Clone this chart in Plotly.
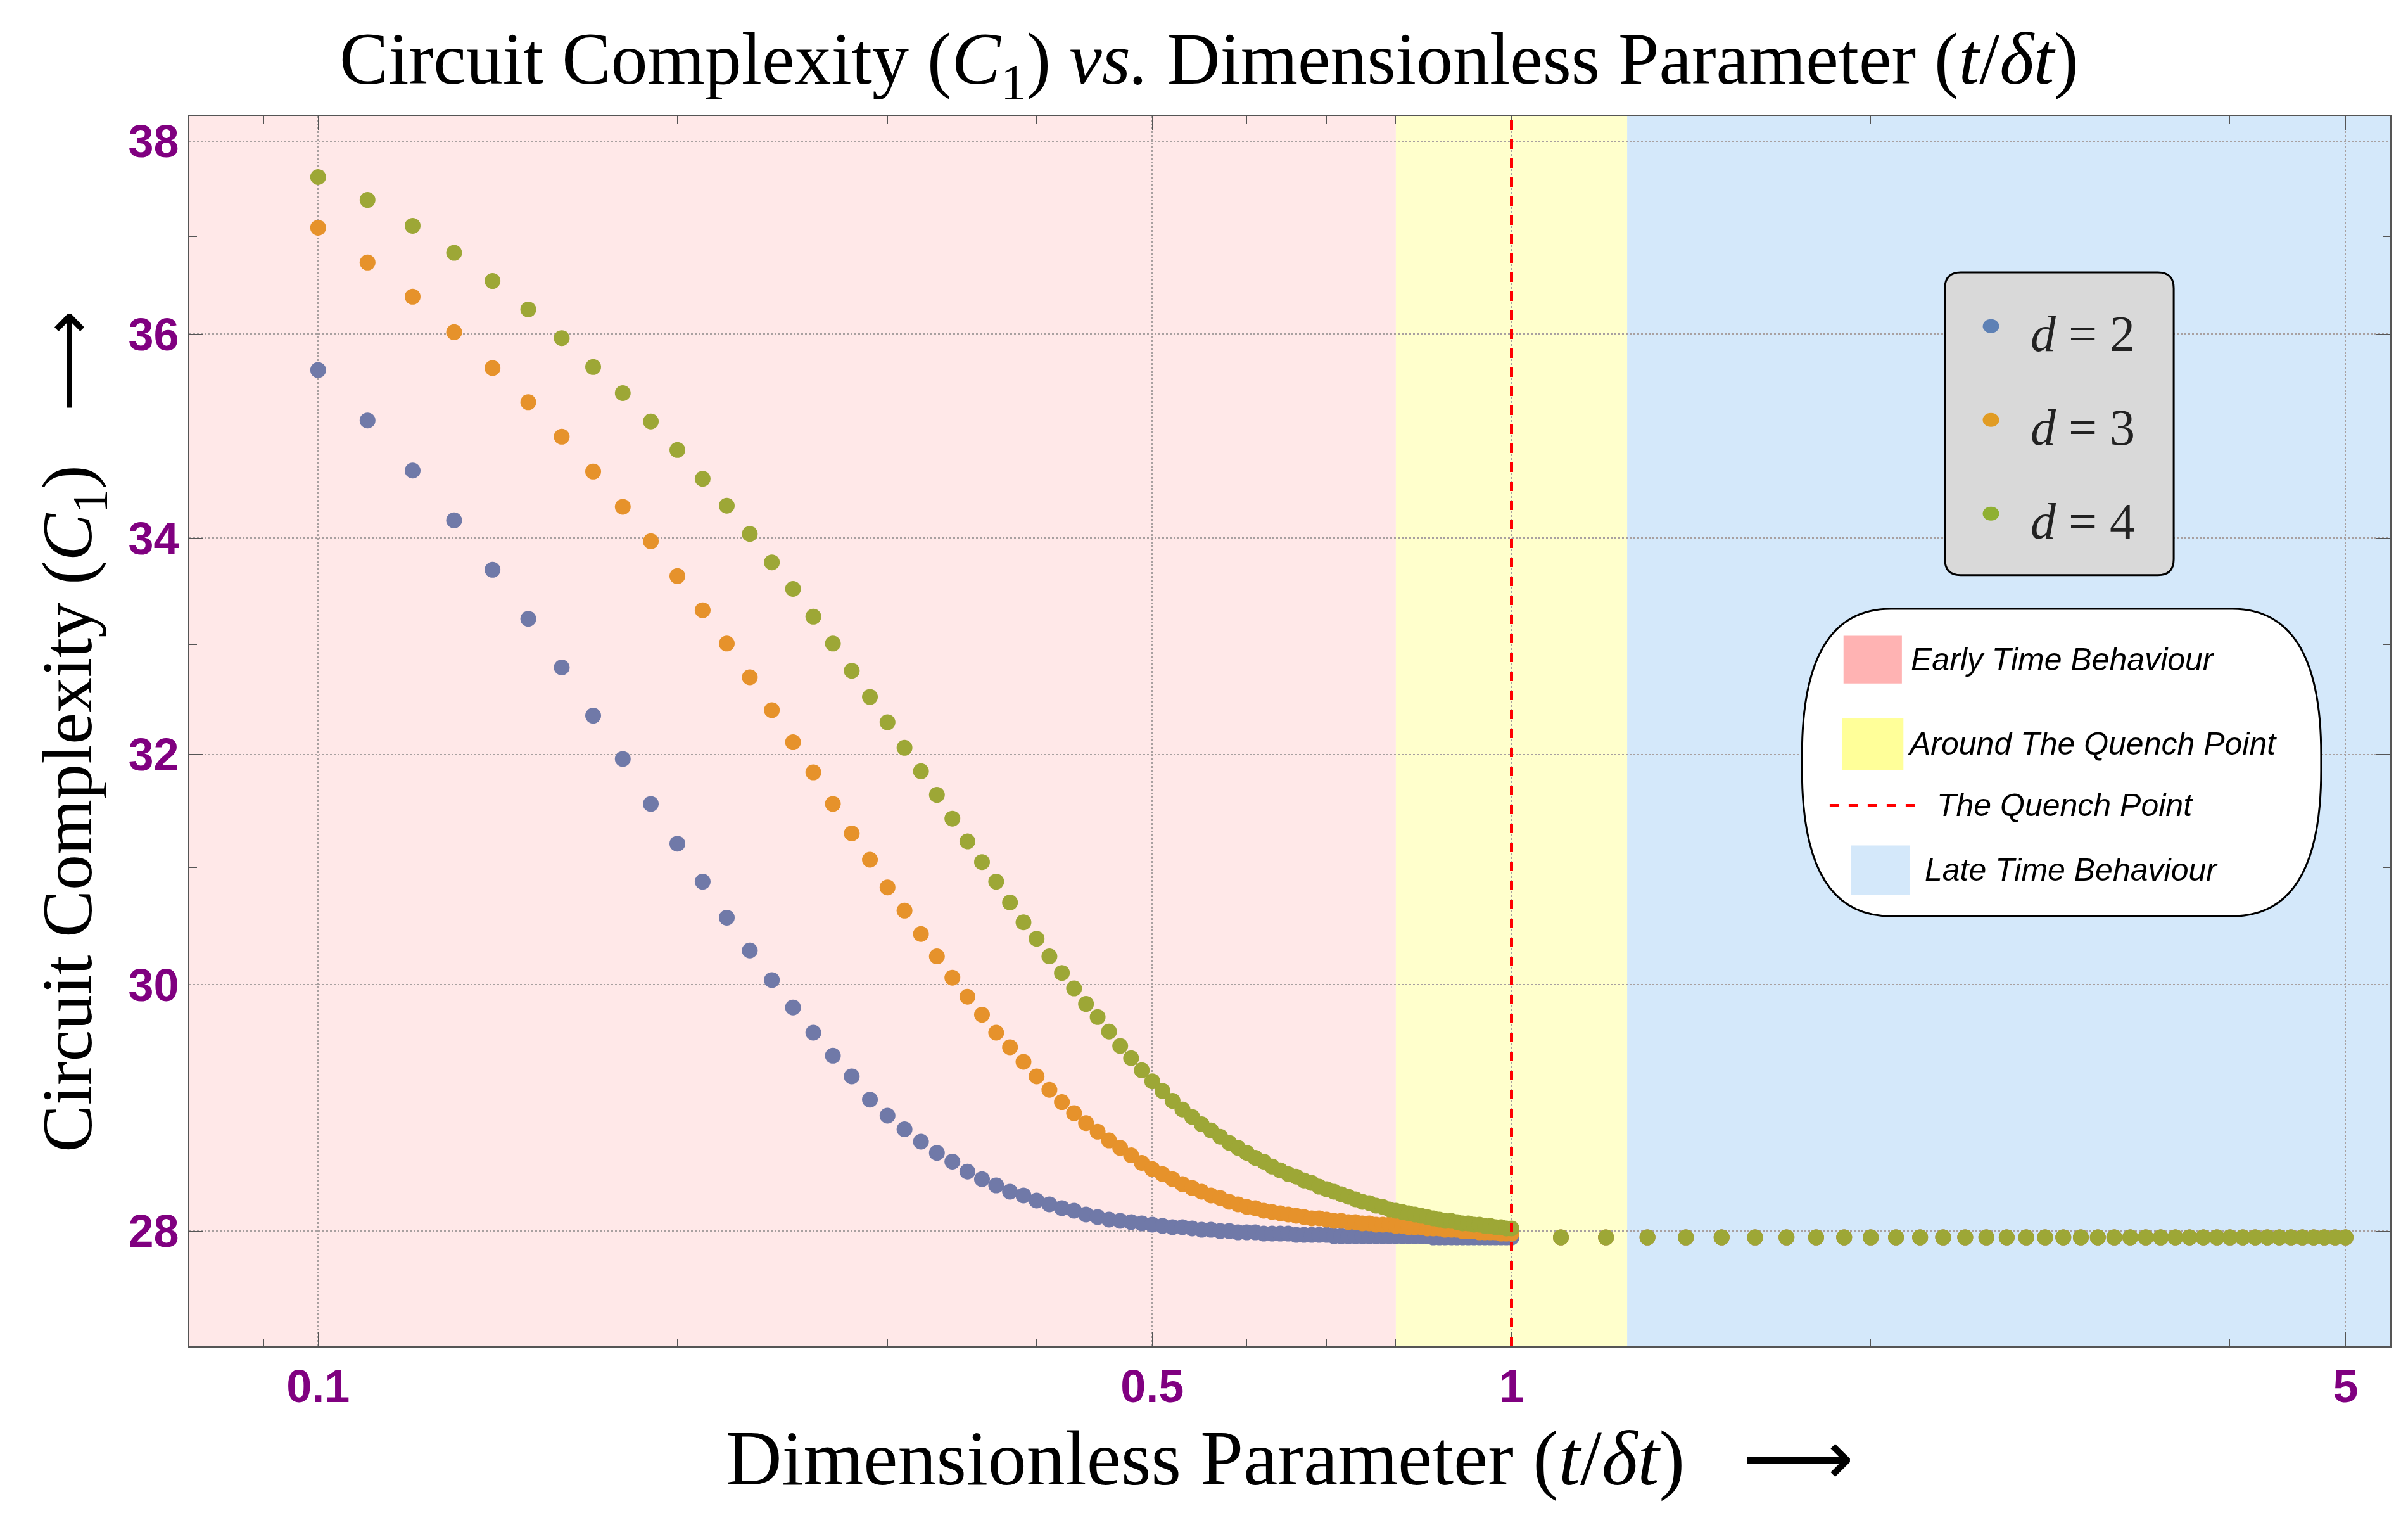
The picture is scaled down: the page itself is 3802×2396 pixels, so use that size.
import numpy as np
import plotly.graph_objects as go

# t/dt sample points: 0.10..1.00 step 0.01, then 1.1..5.0 step 0.1
t_early = np.round(np.arange(0.10, 1.001, 0.01), 2)
t_late = np.round(np.arange(1.1, 5.001, 0.1), 1)

c1_d2 = [35.64, 35.14, 34.65, 34.17, 33.70, 33.24, 32.79, 32.35, 31.96, 31.56,
         31.21, 30.88, 30.57, 30.29, 30.04, 29.81, 29.60, 29.41, 29.24, 29.05,
         28.92, 28.81, 28.71, 28.62, 28.55, 28.47, 28.41, 28.36, 28.31, 28.28,
         28.24, 28.21, 28.18, 28.16, 28.13, 28.11, 28.09, 28.08, 28.07, 28.06,
         28.05, 28.04, 28.03, 28.03, 28.02, 28.01, 28.01, 28.00, 28.00, 27.99,
         27.99, 27.99, 27.98, 27.98, 27.98, 27.98, 27.97, 27.97, 27.97, 27.97,
         27.97, 27.96, 27.96, 27.96, 27.96, 27.96, 27.96, 27.96, 27.96, 27.96,
         27.96, 27.96, 27.96, 27.96, 27.96, 27.96, 27.95, 27.95, 27.95, 27.95,
         27.95, 27.95, 27.95, 27.95, 27.95, 27.95, 27.95, 27.95, 27.95, 27.95,
         27.95]
c1_d3 = [37.09, 36.73, 36.38, 36.02, 35.66, 35.32, 34.98, 34.64, 34.30, 33.97,
         33.64, 33.32, 33.01, 32.70, 32.40, 32.11, 31.84, 31.56, 31.30, 31.07,
         30.83, 30.63, 30.43, 30.24, 30.06, 29.90, 29.75, 29.60, 29.48, 29.36,
         29.24, 29.13, 29.03, 28.94, 28.86, 28.79, 28.72, 28.66, 28.60, 28.54,
         28.49, 28.45, 28.41, 28.37, 28.34, 28.31, 28.28, 28.26, 28.23, 28.21,
         28.19, 28.18, 28.16, 28.15, 28.14, 28.13, 28.12, 28.11, 28.10, 28.10,
         28.09, 28.08, 28.08, 28.07, 28.07, 28.06, 28.06, 28.05, 28.05, 28.05,
         28.04, 28.04, 28.03, 28.03, 28.03, 28.02, 28.02, 28.02, 28.01, 28.01,
         28.01, 28.00, 28.00, 28.00, 27.99, 27.99, 27.99, 27.99, 27.98, 27.98,
         27.98]
c1_d4 = [37.62, 37.38, 37.11, 36.83, 36.54, 36.25, 35.96, 35.67, 35.41, 35.13,
         34.85, 34.57, 34.31, 34.04, 33.77, 33.52, 33.26, 33.01, 32.76, 32.52,
         32.29, 32.06, 31.85, 31.64, 31.43, 31.23, 31.05, 30.88, 30.70, 30.53,
         30.39, 30.24, 30.10, 29.97, 29.84, 29.73, 29.61, 29.49, 29.39, 29.29,
         29.20, 29.12, 29.04, 28.97, 28.91, 28.85, 28.80, 28.75, 28.70, 28.66,
         28.62, 28.58, 28.55, 28.51, 28.48, 28.45, 28.43, 28.40, 28.38, 28.35,
         28.33, 28.31, 28.29, 28.27, 28.25, 28.23, 28.22, 28.20, 28.19, 28.17,
         28.16, 28.15, 28.14, 28.13, 28.12, 28.11, 28.10, 28.09, 28.08, 28.08,
         28.07, 28.06, 28.06, 28.05, 28.05, 28.04, 28.04, 28.03, 28.03, 28.02,
         28.02]
# late time: all three curves sit on the same plateau
c1_late = [27.95] * 40

series = [("d = 2", c1_d2, "#7079A8", "#5E81B5"),
          ("d = 3", c1_d3, "#E6922B", "#E19C24"),
          ("d = 4", c1_d4, "#9DA736", "#8FB032")]

W, H = 3802, 2396
S = 2.425  # reading scale
L, R, T, B = 291, 36, 175, 279
PW, PH = W - L - R, H - T - B


def px(x):  # reference-pixel -> paper
    return (x * S - L) / PW


def py(y):
    return (H - B - y * S) / PH


fig = go.Figure()
for name, vals, col, _ in series:
    fig.add_trace(go.Scatter(x=list(t_early) + list(t_late), y=vals + c1_late,
                             mode="markers", name=name, showlegend=False,
                             marker=dict(size=25, color=col)))

# behaviour regions
for x0, x1, c in [(0.07, 0.8, "#FFE8E8"), (0.8, 1.25, "#FFFFCC"), (1.25, 6, "#D4E8FA")]:
    fig.add_shape(type="rect", xref="x", yref="paper", x0=x0, x1=x1, y0=0, y1=1,
                  fillcolor=c, line_width=0, layer="below")
fig.add_shape(type="line", xref="x", yref="paper", x0=1, x1=1, y0=0, y1=1,
              line=dict(color="red", width=5, dash="dash"))


def rounded(x0, y0, x1, y1, rx, ry):
    rx, ry = rx / PW, ry / PH
    return (f"M{x0+rx},{y0} L{x1-rx},{y0} Q{x1},{y0} {x1},{y0+ry} L{x1},{y1-ry} "
            f"Q{x1},{y1} {x1-rx},{y1} L{x0+rx},{y1} Q{x0},{y1} {x0},{y1-ry} "
            f"L{x0},{y0+ry} Q{x0},{y0} {x0+rx},{y0} Z")


fig.add_shape(type="path", xref="paper", yref="paper",
              path=rounded(px(1263), py(371), px(1412), py(174), 25, 25),
              fillcolor="#D9D9D9", line=dict(color="black", width=3))
fig.add_shape(type="path", xref="paper", yref="paper",
              path=rounded(px(1170), py(593), px(1508), py(393), 140, 230),
              fillcolor="white", line=dict(color="black", width=3))

serif = "Liberation Serif"
sans = "Liberation Sans"
for i, (name, _, _, lcol) in enumerate(series):
    yy = py(209 + 61 * i)
    fig.add_shape(type="circle", xref="paper", yref="paper", xsizemode="pixel",
                  ysizemode="pixel", xanchor=px(1293), yanchor=yy,
                  x0=-13, x1=13, y0=-11, y1=11, fillcolor=lcol, line_width=0)
    fig.add_annotation(xref="paper", yref="paper", x=px(1318), y=py(195 + 61 * i),
                       xanchor="left", showarrow=False, text="<i>d</i> = " + name[-1],
                       font=dict(family=serif, size=80, color="#222"))

items = [("Early Time Behaviour", "#FFB3B3", 1197, 1235, 1240, 426, 31),
         ("Around The Quench Point", "#FFFF99", 1196, 1236, 1238, 481, 34),
         ("The Quench Point", None, 1188, 1246, 1257, 521, 0),
         ("Late Time Behaviour", "#D4E8FA", 1202, 1240, 1249, 563, 32)]
for text, c, a, b, tx, ty, h in items:
    if c:
        fig.add_shape(type="rect", xref="paper", yref="paper", x0=px(a), x1=px(b),
                      y0=py(ty + h / 2), y1=py(ty - h / 2), fillcolor=c, line_width=0)
    else:
        fig.add_shape(type="line", xref="paper", yref="paper", x0=px(a), x1=px(b),
                      y0=py(ty), y1=py(ty), line=dict(color="red", width=5, dash="dash"))
    fig.add_annotation(xref="paper", yref="paper", x=px(tx), y=py(ty), xanchor="left",
                       showarrow=False, text="<i>" + text + "</i>",
                       font=dict(family=sans, size=50, color="black"))

tickfont = dict(family=sans, size=72, color="#800080", weight="bold")
grid = dict(showgrid=True, gridcolor="#A8A0A0", griddash="dot", gridwidth=2,
            showline=True, linecolor="#555", linewidth=2, mirror="ticks",
            ticks="inside", ticklen=22, tickcolor="#555", tickfont=tickfont)

fig.update_xaxes(type="log", range=[np.log10(0.078), np.log10(5.45)],
                 tickvals=[0.1, 0.5, 1, 5], ticktext=["0.1", "0.5", "1", "5"],
                 minor=dict(tickvals=[0.09, 0.2, 0.3, 0.4, 0.6, 0.7, 0.8, 0.9, 2, 3, 4],
                            ticks="inside", ticklen=12, tickcolor="#555", showgrid=False),
                 title=dict(text="Dimensionless Parameter (<i>t</i>/<i>δt</i>)   ⟶",
                            font=dict(family=serif, size=122, color="black"), standoff=30),
                 **grid)
fig.update_yaxes(type="log", range=[np.log10(27.11), np.log10(38.27)],
                 tickvals=[28, 30, 32, 34, 36, 38],
                 minor=dict(tickvals=[29, 31, 33, 35, 37], ticks="inside", ticklen=12,
                            tickcolor="#555", showgrid=False),
                 title=dict(text="Circuit Complexity (<i>C</i><sub>1</sub>)   ⟶",
                            font=dict(family=serif, size=112, color="black"), standoff=20),
                 **grid)

fig.update_layout(
    width=W, height=H, margin=dict(l=L, r=R, t=T, b=B),
    paper_bgcolor="white", plot_bgcolor="white",
    title=dict(text="Circuit Complexity (<i>C</i><sub>1</sub>) <i>vs.</i> "
                    "Dimensionless Parameter (<i>t</i>/<i>δt</i>)",
               x=0.5, xanchor="center", y=0.982, yanchor="top",
               font=dict(family=serif, size=116, color="black")),
)

fig.write_html("out.html")
